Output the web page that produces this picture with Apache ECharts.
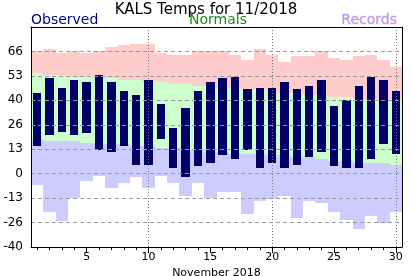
<!DOCTYPE html>
<html><head><meta charset="utf-8">
<script src="https://cdn.jsdelivr.net/npm/echarts@6/dist/echarts.min.js"></script>
<style>html,body{margin:0;padding:0;background:#fff}#c{width:412px;height:276px}</style>
</head><body><div id="c"></div>
<script>
const days = ['1','2','3','4','5','6','7','8','9','10','11','12','13','14','15','16','17','18','19','20','21','22','23','24','25','26','27','28','29','30'];
const obsHigh = [44,52,47,51,50,54,50,45,43,51,38,25,36,45,50,52,53,46,47,47,50,46,48,51,37,40,48,53,51,45];
const obsLow  = [15,21,23,21,22,13,12,15,5,5,19,3,-2,4,6,10,8,13,3,6,3,5,9,12,4,3,3,8,16,11];
const normHigh = [55,54,54,53,53,52,52,51,51,50,50,49,49,48,48,47,47,46,46,45,44,44,43,43,42,42,41,41,40,40];
const normLow  = [19,18,18,18,17,17,16,16,15,15,14,14,13,13,12,12,11,11,11,10,10,9,9,8,7,7,6,6,6,5];
const recHigh = [67,68,66,67,66,67,69,70,71,71,66,65,65,67,67,67,65,62,68,65,61,64,64,67,63,62,64,65,62,58];
const recLow  = [-6,-21,-26,-13,-4,-1,-8,-5,-2,-8,-1,-5,-12,-5,-13,-10,-10,-22,-15,-14,-12,-24,-15,-16,-21,-25,-30,-23,-27,-21];
const yTickLabels = ['-40','-26','-13','0','13','26','40','53','66',''];
const markDays = ['10','20','30'];

const FONT = 'DejaVu Sans';
function pairs(lo, hi){ return days.map((d,i)=>[i, lo[i], hi[i]]); }
function bandRender(color, frac){
  return function(params, api){
    const i = api.value(0);
    const p1 = api.coord([i, api.value(2)]);
    const p2 = api.coord([i, api.value(1)]);
    const w = api.size([1,0])[0]*frac;
    const x0 = Math.round(p1[0]-w/2), x1 = Math.round(p1[0]+w/2);
    const y0 = Math.round(p1[1]), y1 = Math.round(p2[1]);
    return {type:'rect', shape:{x:x0, y:y0, width:x1-x0, height:y1-y0}, style:{fill:color}};
  };
}
const chart = echarts.init(document.getElementById('c'), null, {renderer:'canvas'});
chart.setOption({
  animation:false,
  backgroundColor:'#fff',
  title:[
    {text:'KALS Temps for 11/2018', left:'center', top:-2, textStyle:{fontFamily:FONT, fontSize:15, fontWeight:'normal', color:'#000'}},
    {text:'Observed', left:26, top:8, textStyle:{fontFamily:FONT, fontSize:14, fontWeight:'normal', color:'#000080'}},
    {text:'Normals', left:184, top:8, textStyle:{fontFamily:FONT, fontSize:14, fontWeight:'normal', color:'#1a8a1a'}},
    {text:'Records', right:9, top:8, textStyle:{fontFamily:FONT, fontSize:14, fontWeight:'normal', color:'#a4a4ff', textBorderColor:'#ffd0d0', textBorderWidth:1}}
  ],
  grid:{left:31, right:10, top:27, bottom:29, containLabel:false, outerBoundsMode:'none'},
  xAxis:[
    {type:'category', data:days, boundaryGap:true, position:'bottom', z:11,
     axisLine:{show:true, onZero:false, lineStyle:{color:'#000', width:1}},
     axisTick:{show:true, alignWithLabel:true, interval:0, length:3, lineStyle:{color:'#000'}},
     axisLabel:{interval:(i)=> (i+1)%5===0, fontFamily:FONT, fontSize:11, color:'#000', margin:5},
     splitLine:{show:false},
     name:'November 2018', nameLocation:'middle', nameGap:14,
     nameTextStyle:{fontFamily:FONT, fontSize:11, color:'#000'}},
    {type:'category', data:days, boundaryGap:true, position:'bottom', z:11,
     axisLine:{show:false, onZero:false},
     axisTick:{show:true, alignWithLabel:true, interval:(i)=> (i+1)%5===0, length:6, lineStyle:{color:'#000'}},
     axisLabel:{show:false}, splitLine:{show:false}},
    {type:'category', data:days, boundaryGap:true, position:'top', z:11,
     axisLine:{show:true, onZero:false, lineStyle:{color:'#000'}},
     axisTick:{show:false}, axisLabel:{show:false}, splitLine:{show:false}}
  ],
  yAxis:[
    {type:'value', min:-40, max:80, show:false, splitLine:{show:false}},
    {type:'value', min:0, max:9, interval:1, position:'left', z:10,
     axisLine:{show:true, onZero:false, lineStyle:{color:'#000'}},
     axisTick:{show:false},
     axisLabel:{formatter:(v)=> yTickLabels[Math.round(v)] || '', fontFamily:FONT, fontSize:12, color:'#000', margin:8},
     splitLine:{show:true, lineStyle:{color:'#999', type:[4,3], width:1}}},
    {type:'value', min:0, max:9, interval:1, position:'right', z:10,
     axisLine:{show:true, onZero:false, lineStyle:{color:'#000'}},
     axisTick:{show:false}, axisLabel:{show:false}, splitLine:{show:false}}
  ],
  series:[
    {type:'custom', name:'Record high', xAxisIndex:0, yAxisIndex:0, z:1, renderItem:bandRender('#ffcccc',1), data:pairs(normHigh, recHigh), encode:{x:0, y:[1,2]}},
    {type:'custom', name:'Normal', xAxisIndex:0, yAxisIndex:0, z:1, renderItem:bandRender('#ccffcc',1), data:pairs(normLow, normHigh), encode:{x:0, y:[1,2]}},
    {type:'custom', name:'Record low', xAxisIndex:0, yAxisIndex:0, z:1, renderItem:bandRender('#ccccff',1), data:pairs(recLow, normLow), encode:{x:0, y:[1,2]}},
    {type:'custom', name:'Observed', xAxisIndex:0, yAxisIndex:0, z:2, renderItem:bandRender('#000066',0.68), data:pairs(obsLow, obsHigh), encode:{x:0, y:[1,2]},
     markLine:{silent:true, symbol:'none', label:{show:false}, z:5,
       lineStyle:{color:'#777', type:[1,2], width:1},
       data: markDays.map(d=>({xAxis:d}))}}
  ]
});
</script></body></html>
